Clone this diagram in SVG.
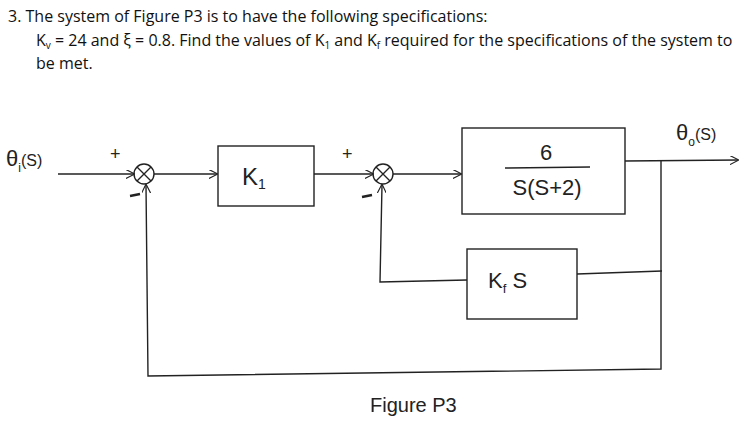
<svg xmlns="http://www.w3.org/2000/svg" width="748" height="436" viewBox="0 0 748 436">
<defs>
<style>
.t{font-family:"Open Sans","Liberation Sans",sans-serif;font-size:16px;fill:#111}
.h{font-family:"Liberation Sans",sans-serif;fill:#222}
.l{fill:none;stroke:#222;stroke-width:1.4}
</style>
<marker id="a" viewBox="0 0 10 10" refX="9" refY="5" markerWidth="9" markerHeight="9" orient="auto" markerUnits="userSpaceOnUse"><path d="M0,0 L10,5 L0,10" fill="none" stroke="#222" stroke-width="1.3"/></marker>
</defs>
<rect width="748" height="436" fill="#fff"/>
<text class="t" x="8" y="22">3.   The system of Figure P3 is to have the following specifications:</text>
<text class="t" x="36" y="46">K<tspan font-size="10" dy="3">v</tspan><tspan dy="-3"> = 24 and ξ = 0.8.  Find the values of K</tspan><tspan font-size="10" dy="3">1</tspan><tspan dy="-3"> and K</tspan><tspan font-size="10" dy="3">f</tspan><tspan dy="-3"> required for the specifications of the system to</tspan></text>
<text class="t" x="36" y="69">be met.</text>
<g id="connectors" class="l">
<path d="M58,174 L134,174" marker-end="url(#a)"/>
<path d="M154,174 L217,174" marker-end="url(#a)"/>
<path d="M314,174 L373,174" marker-end="url(#a)"/>
<path d="M393,174 L461,174" marker-end="url(#a)"/>
<path d="M625,161 L738,160" marker-end="url(#a)"/>
<path d="M661,160 L661,369 L148,376 L146,185" marker-end="url(#a)"/>
<path d="M662,271 L577,274"/>
<path d="M467,280 L380,282 L382,185" marker-end="url(#a)"/>
</g>
<g id="sum1"><circle class="l" cx="144" cy="174" r="10"/><path class="l" d="M137,167 L151,181 M151,167 L137,181"/>
<text class="h" x="110" y="160" font-size="18">+</text><path d="M130,196 L140,194" stroke="#222" stroke-width="2.5"/></g>
<g id="sum2"><circle class="l" cx="383" cy="174" r="10"/><path class="l" d="M376,167 L390,181 M390,167 L376,181"/>
<text class="h" x="342" y="160" font-size="18">+</text><path d="M362,197 L372,195" stroke="#222" stroke-width="2.5"/></g>
<g id="k1"><rect class="l" x="218" y="146" width="96" height="60"/><text class="h" x="242" y="185" font-size="24">K<tspan font-size="14" dy="4">1</tspan></text></g>
<g id="g"><rect class="l" x="462" y="128" width="163" height="86"/><text class="h" x="546" y="160" font-size="22" text-anchor="middle">6</text><path class="l" d="M505,168 L590,167"/><text class="h" x="547" y="195" font-size="22" text-anchor="middle">S(S+2)</text></g>
<g id="kf"><rect class="l" x="467" y="249" width="110" height="70"/><text class="h" x="488" y="288" font-size="22">K<tspan font-size="13" dy="5">f</tspan><tspan dy="-5"> S</tspan></text></g>
<g id="labels">
<text class="h" x="6" y="166" font-size="22">θ<tspan font-size="12" dy="6">i</tspan><tspan dy="-6" font-size="16">(S)</tspan></text>
<text class="h" x="676" y="140" font-size="22">θ<tspan font-size="12" dy="6">o</tspan><tspan dy="-6" font-size="16">(S)</tspan></text>
<text class="h" x="370" y="412" font-size="20">Figure P3</text>
</g>
</svg>
